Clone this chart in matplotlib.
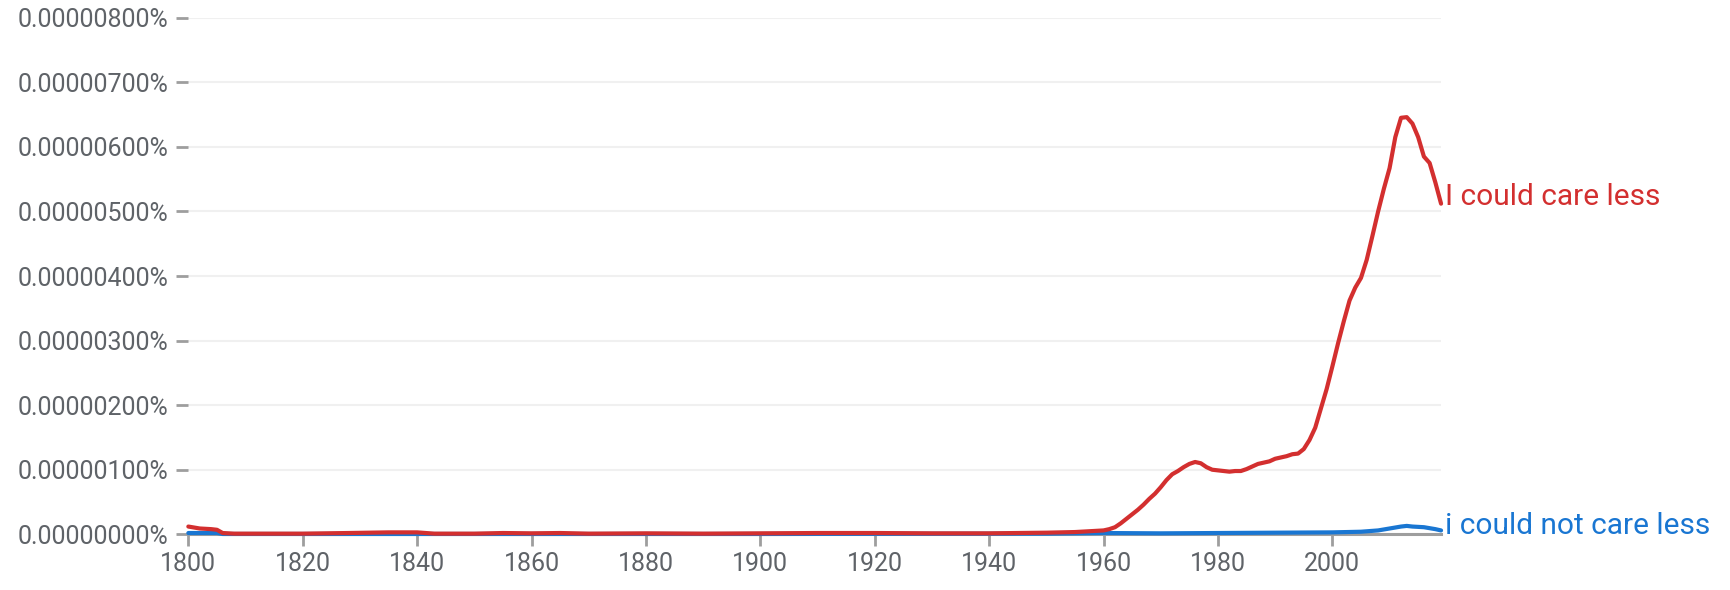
import numpy as np
import matplotlib.pyplot as plt
from matplotlib.ticker import FuncFormatter

plt.rcParams['font.family'] = ['Roboto', 'DejaVu Sans']

# values in millionths of a percent (1.0 -> 0.00000100%)
red_years = [1800, 1802, 1804, 1805, 1806, 1808, 1820, 1828, 1835, 1840, 1843, 1850,
             1855, 1860, 1865, 1870, 1880, 1890, 1900, 1910, 1920, 1930, 1940, 1945,
             1950, 1955, 1958, 1960, 1961, 1962, 1963, 1964, 1965, 1966, 1967, 1968,
             1969, 1970, 1971, 1972, 1973, 1974, 1975, 1976, 1977, 1978, 1979, 1980,
             1981, 1982, 1983, 1984, 1985, 1986, 1987, 1988, 1989, 1990, 1991, 1992,
             1993, 1994, 1995, 1996, 1997, 1998, 1999, 2000, 2001, 2002, 2003, 2004,
             2005, 2006, 2007, 2008, 2009, 2010, 2011, 2012, 2013, 2014, 2015, 2016,
             2017, 2018, 2019]
red_vals = [0.12, 0.09, 0.08, 0.07, 0.02, 0.01, 0.01, 0.02, 0.03, 0.03, 0.01, 0.01,
            0.02, 0.015, 0.02, 0.01, 0.015, 0.01, 0.015, 0.02, 0.02, 0.015, 0.015, 0.02,
            0.025, 0.035, 0.05, 0.06, 0.08, 0.11, 0.17, 0.24, 0.31, 0.38, 0.46, 0.55,
            0.63, 0.73, 0.84, 0.93, 0.98, 1.04, 1.09, 1.12, 1.10, 1.04, 1.00, 0.99,
            0.98, 0.97, 0.98, 0.98, 1.01, 1.05, 1.09, 1.11, 1.13, 1.17, 1.19, 1.21,
            1.24, 1.25, 1.32, 1.46, 1.65, 1.95, 2.25, 2.60, 2.96, 3.30, 3.62, 3.82,
            3.97, 4.25, 4.62, 5.00, 5.35, 5.67, 6.15, 6.45, 6.46, 6.36, 6.15, 5.85,
            5.75, 5.45, 5.12]

blue_years = [1800, 1805, 1806, 1850, 1900, 1950, 1960, 1970, 1980, 1990, 2000, 2005,
              2008, 2010, 2012, 2013, 2014, 2016, 2018, 2019]
blue_vals = [0.02, 0.02, 0.005, 0.005, 0.005, 0.01, 0.02, 0.015, 0.02, 0.025, 0.03, 0.04,
             0.06, 0.09, 0.12, 0.13, 0.12, 0.11, 0.08, 0.06]

red_label = 'I could care less'
blue_label = 'i could not care less'
red = '#d32f2f'
blue = '#1976d2'
grey_txt = '#5f6368'
x_ticks = list(range(1800, 2001, 20))
y_ticks = list(range(0, 9))

fig = plt.figure(figsize=(17.31, 5.90), dpi=100)
ax = fig.add_axes([0.1088, 0.0944, 0.8325 - 0.1088, 0.970 - 0.0944])

ax.plot(blue_years, blue_vals, color=blue, lw=3, zorder=3, clip_on=False,
        solid_joinstyle='round', solid_capstyle='round')
ax.plot(red_years, red_vals, color=red, lw=3, zorder=4, clip_on=False,
        solid_joinstyle='round', solid_capstyle='round')

ax.set_xlim(1800, 2019)
ax.set_ylim(0, 8)
ax.set_xticks(x_ticks)
ax.set_yticks(y_ticks)
ax.yaxis.set_major_formatter(FuncFormatter(lambda v, p: f'{v * 1e-6:.8f}%'))

for s in ['top', 'right', 'left']:
    ax.spines[s].set_visible(False)
ax.spines['bottom'].set_color('#9e9e9e')
ax.spines['bottom'].set_linewidth(2.2)
ax.spines['bottom'].set_zorder(2)

ax.grid(axis='y', color='#f0f0f0', lw=1.5)
ax.set_axisbelow(True)
ax.tick_params(axis='y', length=8.5, width=2, color='#9e9e9e', pad=6,
               labelsize=18, labelcolor=grey_txt)
ax.tick_params(axis='x', length=8.5, width=2, color='#9e9e9e', pad=4,
               labelsize=18, labelcolor=grey_txt)

ax.annotate(red_label, (red_years[-1], red_vals[-1]), xytext=(3, 5),
            textcoords='offset points', color=red, fontsize=21.5, va='center',
            annotation_clip=False)
ax.annotate(blue_label, (blue_years[-1], blue_vals[-1]), xytext=(3, 3),
            textcoords='offset points', color=blue, fontsize=21.5, va='center',
            annotation_clip=False)

fig.savefig('out.png', dpi=100)
